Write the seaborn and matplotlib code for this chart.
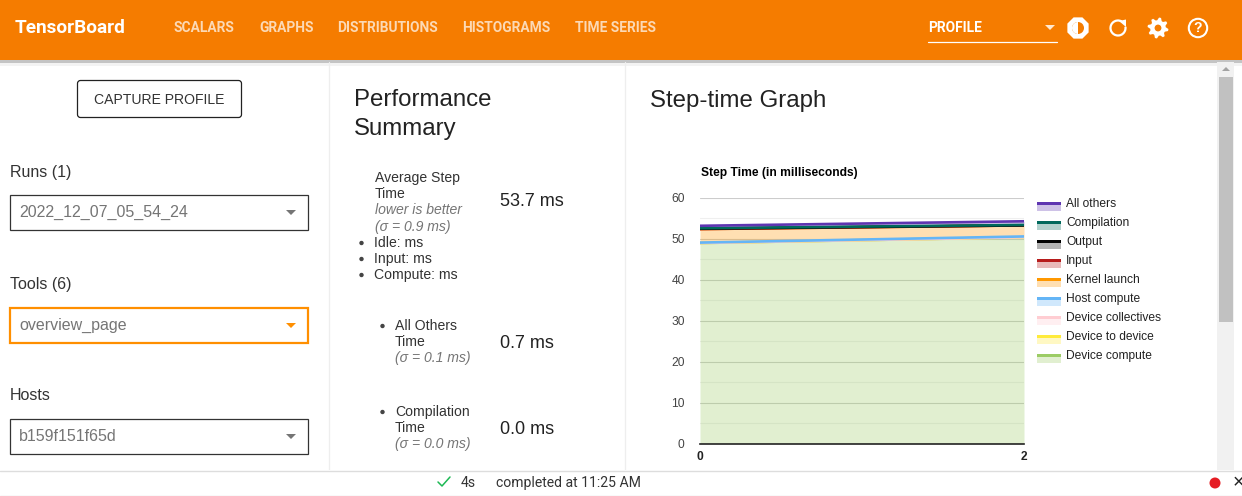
import matplotlib
matplotlib.use('Agg')
import matplotlib.pyplot as plt
import seaborn as sns
import pandas as pd
import numpy as np
from matplotlib.legend_handler import HandlerBase
from matplotlib.patches import Rectangle, FancyBboxPatch, Circle, Polygon, Arc, RegularPolygon, Wedge

# values, bottom of the stack first
steps = [0, 2]
series_names = ['Device compute', 'Device to device', 'Device collectives', 'Host compute',
                'Kernel launch', 'Input', 'Output', 'Compilation', 'All others']
device_compute = [48.9, 50.3]
device_to_device = [0.0, 0.0]
device_collectives = [0.0, 0.0]
host_compute = [0.1, 0.2]
kernel_launch = [3.3, 2.7]
input_time = [0.0, 0.0]
output_time = [0.1, 0.0]
compilation = [0.1, 0.1]
all_others = [0.6, 0.9]
series_colors = ['#9ccc65', '#ffeb3b', '#ffcdd2', '#64b5f6', '#ff9800',
                 '#b71c1c', '#000000', '#00695c', '#5e35b1']
y_ticks = [0, 10, 20, 30, 40, 50, 60]

nav_items = [('SCALARS', 173), ('GRAPHS', 259), ('DISTRIBUTIONS', 337), ('HISTOGRAMS', 462), ('TIME SERIES', 575)]

W, H = 1242, 496
ORANGE = '#f57c00'

sns.set_style('white')
plt.rcParams['font.family'] = ['Liberation Sans', 'DejaVu Sans']

fig = plt.figure(figsize=(W / 100, H / 100), dpi=100, facecolor='white')

# page furniture in pixel coordinates
ui = fig.add_axes([0, 0, 1, 1])
ui.set_xlim(0, W)
ui.set_ylim(H, 0)
ui.axis('off')


def px(size):
    return size * 0.72


def label(x, y, s, size=14, color='#333333', ha='left', va='center', **kw):
    ui.text(x, y, s, fontsize=px(size), color=color, ha=ha, va=va, **kw)


def box(x0, y0, x1, y1, **kw):
    ui.add_patch(Rectangle((x0, y0), x1 - x0, y1 - y0, **kw))


def select(y0, y1, text, edge, lw, arrow):
    box(10, y0, 308, y1, facecolor='white', edgecolor=edge, linewidth=lw)
    ymid = (y0 + y1) / 2
    label(19, ymid + 0.5, text, size=16, color='#757575')
    ui.add_patch(Polygon([(286, ymid - 2), (296, ymid - 2), (291, ymid + 3)], color=arrow, lw=0))


def gear(x, y, outer, inner, teeth=8):
    # alternating radii give the toothed outline of the settings icon
    ang = np.linspace(0, 2 * np.pi, teeth * 4, endpoint=False) + np.pi / (teeth * 4)
    rad = np.tile([outer, outer, inner, inner], teeth)
    ui.add_patch(Polygon(np.c_[x + rad * np.cos(ang), y + rad * np.sin(ang)], color='white', lw=0))


# header
box(0, 60, W, 66, facecolor='#f3f3f3', edgecolor='none')
box(0, 60, W, 62.5, facecolor='#c4c4c4', edgecolor='none')
box(0, 0, W, 60, facecolor=ORANGE, edgecolor='none')
label(15, 28, 'TensorBoard', size=19, color='white', family='Roboto', fontweight='bold')
for name, x in nav_items:
    label(x, 27.5, name, size=13.7, color='#fcd9b5', family='Roboto', fontweight='bold')
label(928, 27.5, 'PROFILE', size=13.7, color='white', family='Roboto', fontweight='bold')
ui.plot([928, 1057], [41.5, 41.5], color='white', lw=0.9)
ui.add_patch(Polygon([(1045, 25), (1055, 25), (1050, 30)], color='#ffe8d0', lw=0))

# header icons
ui.add_patch(RegularPolygon((1078, 28), 8, radius=11.5, orientation=np.pi / 8, color='white', lw=0))
ui.add_patch(Circle((1078, 28), 6, color=ORANGE, lw=0))
ui.add_patch(Wedge((1078, 28), 6, 90, 270, color='white', lw=0))
ui.add_patch(Arc((1118, 28), 15, 15, theta1=-10, theta2=300, color='white', lw=1.6))
ui.add_patch(Polygon([(1119, 21), (1126, 19.5), (1126, 27)], color='white', lw=0))
gear(1158, 28, 10.5, 7.8)
ui.add_patch(Circle((1158, 28), 3.4, color=ORANGE, lw=0))
ui.add_patch(Circle((1198, 28), 9.2, facecolor='none', edgecolor='white', lw=1.5))
label(1198, 28.5, '?', size=14, color='white', ha='center', fontweight='bold')

# dividers and scrollbar
ui.plot([329, 329], [62, 470], color='#eeeeee', lw=0.9)
ui.plot([625, 625], [62, 470], color='#eeeeee', lw=0.9)
box(1217, 62, 1234, 470, facecolor='#f1f1f1', edgecolor='none')
box(1219, 77, 1233, 322, facecolor='#c1c1c1', edgecolor='none')
ui.add_patch(Polygon([(1222, 71), (1230, 71), (1226, 67)], color='#a3a3a3', lw=0))

# left panel
ui.add_patch(FancyBboxPatch((77.5, 80.5), 164, 37, boxstyle='round,pad=0,rounding_size=3',
                            facecolor='white', edgecolor='#222222', lw=0.9))
label(159.5, 100, 'CAPTURE PROFILE', size=14, color='#333333', ha='center')
label(10, 172, 'Runs (1)', size=16)
select(194.5, 229.5, '2022_12_07_05_54_24', '#333333', 0.9, '#757575')
label(10, 284, 'Tools (6)', size=16)
select(307.5, 342.5, 'overview_page', '#ff8f00', 1.6, '#ff8f00')
label(10, 396, 'Hosts', size=16)
select(418.5, 453.5, 'b159f151f65d', '#333333', 0.9, '#757575')

# performance summary
label(354, 99.5, 'Performance', size=24, color='#222222')
label(354, 128.5, 'Summary', size=24, color='#222222')
label(375, 178, 'Average Step', size=14)
label(375, 194, 'Time', size=14)
label(375, 210, 'lower is better', size=14, color='#757575', style='italic')
label(375, 226.5, '(σ = 0.9 ms)', size=14, color='#757575', style='italic')
for y, s in [(243, 'Idle: ms'), (259, 'Input: ms'), (275, 'Compute: ms')]:
    ui.add_patch(Circle((361.5, y), 2.2, color='#444444', lw=0))
    label(374.5, y, s, size=14)
label(500, 202, '53.7 ms', size=18, color='#222222')

ui.add_patch(Circle((382.5, 326), 2.2, color='#444444', lw=0))
label(395, 326, 'All Others', size=14)
label(395, 342, 'Time', size=14)
label(395, 358, '(σ = 0.1 ms)', size=14, color='#757575', style='italic')
label(500, 343, '0.7 ms', size=18, color='#222222')

ui.add_patch(Circle((382.5, 412), 2.2, color='#444444', lw=0))
label(395, 412, 'Compilation', size=14)
label(395, 428, 'Time', size=14)
label(395, 444, '(σ = 0.0 ms)', size=14, color='#757575', style='italic')
label(500, 429, '0.0 ms', size=18, color='#222222')

label(650, 100.5, 'Step-time Graph', size=24, color='#222222')

# stacked step time chart
ax = fig.add_axes([700 / W, 1 - 443.5 / H, 324 / W, 246 / H])
ax.patch.set_alpha(0)
values = [device_compute, device_to_device, device_collectives, host_compute, kernel_launch,
          input_time, output_time, compilation, all_others]
df = pd.DataFrame(dict(zip(series_names, values)), index=steps)
tops = df.cumsum(axis=1)
bottoms = tops.shift(1, axis=1).fillna(0)

for name, color in zip(series_names, series_colors):
    ax.fill_between(steps, bottoms[name], tops[name], color=color, alpha=0.3, lw=0, zorder=2)
for name, color in zip(series_names, series_colors):
    sns.lineplot(x=steps, y=tops[name].values, ax=ax, color=color, lw=1.9, errorbar=None, zorder=3)

ax.set_xlim(0, 2)
ax.set_ylim(0, 60)
ax.set_xticks(steps)
ax.set_yticks(y_ticks)
ax.set_yticks([v + 5 for v in y_ticks[:-1]], minor=True)
ax.grid(True, axis='y', which='major', color='#cccccc', lw=0.8, zorder=1)
ax.grid(True, axis='y', which='minor', color='#efefef', lw=0.8, zorder=1)
ax.set_axisbelow(True)
for side in ['top', 'left', 'right']:
    ax.spines[side].set_visible(False)
ax.spines['bottom'].set_color('#222222')
ax.spines['bottom'].set_linewidth(1.2)
ax.spines['bottom'].set_zorder(6)
ax.tick_params(axis='both', which='both', length=0)
ax.tick_params(axis='y', pad=11, labelsize=px(12), labelcolor='#444444')
ax.tick_params(axis='x', pad=5.5, labelsize=px(12), labelcolor='#222222')
for t in ax.get_xticklabels():
    t.set_fontweight('bold')
ax.set_xlabel('')
ax.set_ylabel('')
ax.set_title('Step Time (in milliseconds)', loc='left', x=0.003, pad=15.7, fontsize=px(12),
             fontweight='bold', color='black')


class StackKey(HandlerBase):
    # dark line on top of the pale area swatch, like the Google Charts legend
    def create_artists(self, legend, orig, xd, yd, w, h, fontsize, trans):
        c = orig.get_facecolor()
        pale = Rectangle((xd, yd - 2.8), w, 4.8, facecolor=c, alpha=0.3, lw=0, transform=trans)
        dark = Rectangle((xd, yd + 1.8), w, 1.7, facecolor=c, lw=0, transform=trans)
        return [pale, dark]


handles = [Rectangle((0, 0), 1, 1, facecolor=c) for c in series_colors[::-1]]
ax.legend(handles, series_names[::-1], handler_map={Rectangle: StackKey()},
          loc='upper left', bbox_to_anchor=(1037 / W, 1 - 198 / H), bbox_transform=fig.transFigure,
          frameon=False, borderpad=0, borderaxespad=0, handlelength=2.0, handletextpad=0.42,
          labelspacing=0.585, fontsize=px(12), labelcolor='#222222')

# bottom status bar
top = fig.add_axes([0, 0, 1, 1], zorder=5)
top.set_xlim(0, W)
top.set_ylim(H, 0)
top.axis('off')
top.add_patch(Rectangle((0, 470), W, 26, facecolor='white', edgecolor='none'))
top.plot([0, W], [470.5, 470.5], color='#dddddd', lw=1)
top.plot([0, W], [495.5, 495.5], color='#e4e4e4', lw=1)
top.plot([438, 442, 450], [482, 486, 477], color='#1db954', lw=1.1)
top.text(461, 483, '4s', fontsize=px(14), color='#333333', family='Roboto', va='center')
top.text(496, 483, 'completed at 11:25 AM', fontsize=px(14), color='#333333', family='Roboto', va='center')
top.add_patch(Circle((1215, 483), 5.5, color='#e51c23', lw=0))
top.text(1238, 483, '×', fontsize=px(20), color='#222222', ha='center', va='center')

fig.savefig('out.png', dpi=100)
